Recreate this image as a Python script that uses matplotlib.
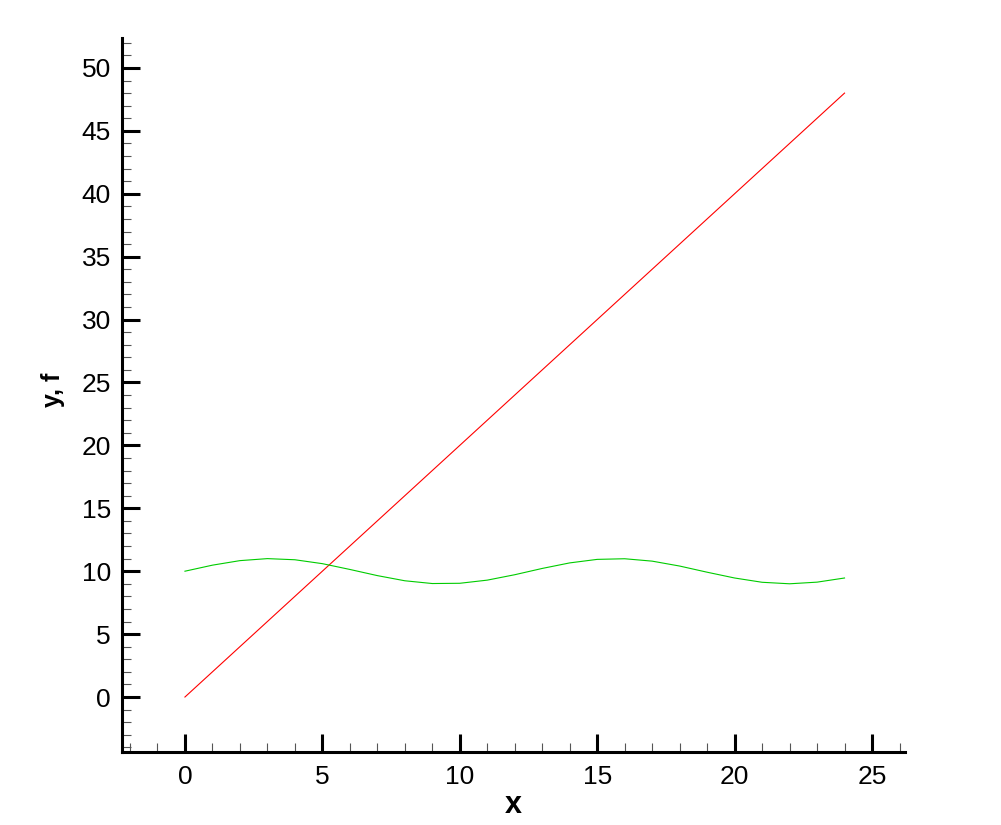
import matplotlib
matplotlib.use("Agg")
import matplotlib.pyplot as plt
from matplotlib.ticker import MultipleLocator

# Data
x_vals = [0, 1, 2, 3, 4, 5, 6, 7, 8, 9, 10, 11, 12, 13, 14, 15, 16, 17, 18, 19, 20, 21, 22, 23, 24]
y_vals = [0, 2, 4, 6, 8, 10, 12, 14, 16, 18, 20, 22, 24, 26, 28, 30, 32, 34, 36, 38, 40, 42, 44, 46, 48]
f_vals = [10.00, 10.48, 10.84, 11.00, 10.91, 10.60, 10.14, 9.65, 9.24, 9.02, 9.04, 9.29, 9.72,
          10.22, 10.66, 10.94, 10.99, 10.80, 10.41, 9.92, 9.46, 9.12, 9.00, 9.13, 9.46]

plt.rcParams['font.family'] = ['Liberation Sans', 'DejaVu Sans']

fig = plt.figure(figsize=(10.01, 8.25), dpi=100)
ax = fig.add_axes([122/1001, (825-752)/825, (905-122)/1001, (752-38)/825])

ax.plot(x_vals, y_vals, color='#ff0000', lw=0.8)
ax.plot(x_vals, f_vals, color='#00cc00', lw=0.8)

ax.set_xlim(-2.29, 26.2)
ax.set_ylim(-4.37, 52.38)

ax.spines['top'].set_visible(False)
ax.spines['right'].set_visible(False)
ax.spines['left'].set_linewidth(2.2)
ax.spines['bottom'].set_linewidth(2.2)

ax.xaxis.set_major_locator(MultipleLocator(5))
ax.xaxis.set_minor_locator(MultipleLocator(1))
ax.yaxis.set_major_locator(MultipleLocator(5))
ax.yaxis.set_minor_locator(MultipleLocator(1))

ax.tick_params(which='major', direction='in', length=13, width=2.2, labelsize=19, pad=8)
ax.tick_params(which='minor', direction='in', length=6.5, width=0.8, color='#555555')
ax.tick_params(axis='x', which='major', pad=9)

ax.set_xlabel('x', fontsize=22, fontweight='bold')
ax.set_ylabel('y, f', fontsize=18, fontweight='bold')
ax.xaxis.label.set_va('center')
ax.yaxis.label.set_va('center')
ax.xaxis.set_label_coords(0.5, -0.074)
ax.yaxis.set_label_coords(-0.088, 0.507)

fig.savefig('out.png', dpi=100)
